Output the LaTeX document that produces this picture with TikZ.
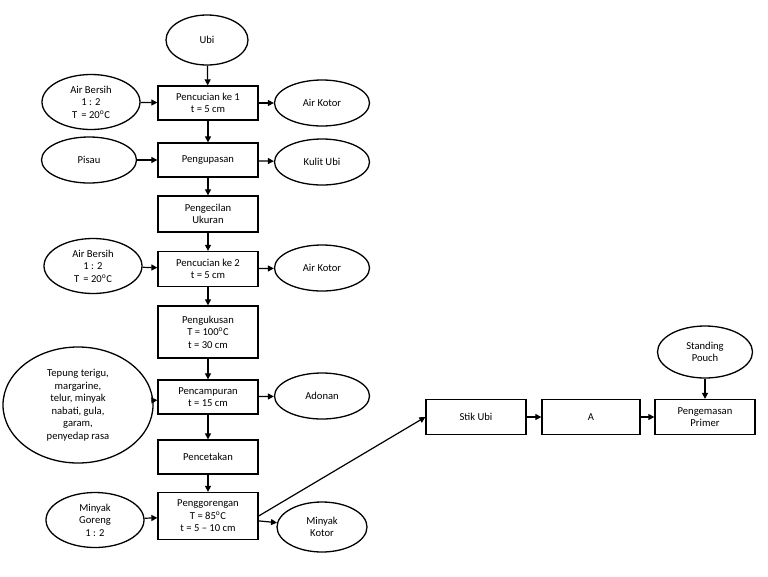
\documentclass[tikz,border=0pt]{standalone}
\usepackage{fontspec}
\setmainfont{Carlito}
\usetikzlibrary{shapes.geometric,arrows.meta}
\begin{document}
\begin{tikzpicture}[x=1pt,y=-1pt,
  every node/.style={font=\fontsize{10.6}{12.5}\selectfont,align=center,inner sep=1pt},
  box/.style={draw,line width=1.3pt,minimum width=100pt},
  ell/.style={draw,ellipse,line width=1.3pt,inner sep=0pt},
  arr/.style={-{Triangle[length=6pt,width=6pt]},line width=1.2pt}]
\useasboundingbox (0,0) rectangle (768,576);
\node[ell,minimum width=82,minimum height=50] (ubi) at (207,40) {Ubi};
\node[box,minimum height=34] (c1) at (208,103) {Pencucian ke 1\\t = 5 cm};
\node[ell,minimum width=98,minimum height=55] (ab1) at (91,102) {Air Bersih\\1 : 2\\T \,= 20\textsuperscript{o}C};
\node[ell,minimum width=95,minimum height=46] (ak1) at (322,103) {Air Kotor};
\node[box,minimum height=34] (kup) at (208,160) {Pengupasan};
\node[ell,minimum width=95,minimum height=46] (pisau) at (89,160) {Pisau};
\node[ell,minimum width=95,minimum height=46] (kulit) at (322,162) {Kulit Ubi};
\node[box,minimum height=36] (kecil) at (208,214) {Pengecilan\\Ukuran};
\node[box,minimum height=35] (c2) at (208,269) {Pencucian ke 2\\t = 5 cm};
\node[ell,minimum width=98,minimum height=55] (ab2) at (93,266) {Air Bersih\\1 : 2\\T \,= 20\textsuperscript{o}C};
\node[ell,minimum width=95,minimum height=46] (ak2) at (322,268) {Air Kotor};
\node[box,minimum height=52] (kukus) at (208,332) {Pengukusan\\T = 100\textsuperscript{o}C\\t = 30 cm};
\node[box,minimum height=34] (campur) at (208,397) {Pencampuran\\t = 15 cm};
\node[ell,minimum width=150,minimum height=116] (bahan) at (78,405) {Tepung terigu,\\margarine,\\telur, minyak\\nabati, gula,\\garam,\\penyedap rasa};
\node[ell,minimum width=95,minimum height=46] (adonan) at (322,396) {Adonan};
\node[box,minimum height=34] (cetak) at (208,457) {Pencetakan};
\node[box,minimum height=47] (goreng) at (208,516) {Penggorengan\\T = 85\textsuperscript{o}C\\t = 5 -- 10 cm};
\node[ell,minimum width=98,minimum height=55] (mg) at (95,520) {Minyak\\Goreng\\1 : 2};
\node[ell,minimum width=90,minimum height=50] (mk) at (322,527) {Minyak\\Kotor};
\node[box,minimum height=35] (stik) at (476,417) {Stik Ubi};
\node[box,minimum height=35,minimum width=98] (A) at (591,417) {A};
\node[box,minimum height=35] (kemas) at (705,417) {Pengemasan\\Primer};
\node[ell,minimum width=95,minimum height=52] (sp) at (705,352) {Standing\\Pouch};
\foreach \a/\b in {ubi/c1,c1/kup,kup/kecil,kecil/c2,c2/kukus,kukus/campur,campur/cetak,cetak/goreng,
 ab1/c1,c1/ak1,pisau/kup,kup/kulit,ab2/c2,c2/ak2,bahan/campur,campur/adonan,mg/goreng,goreng/mk,stik/A,A/kemas,sp/kemas}
  \draw[arr] (\a) -- (\b);
\draw[arr] (goreng.east) -- (stik.west);
\end{tikzpicture}
\end{document}
